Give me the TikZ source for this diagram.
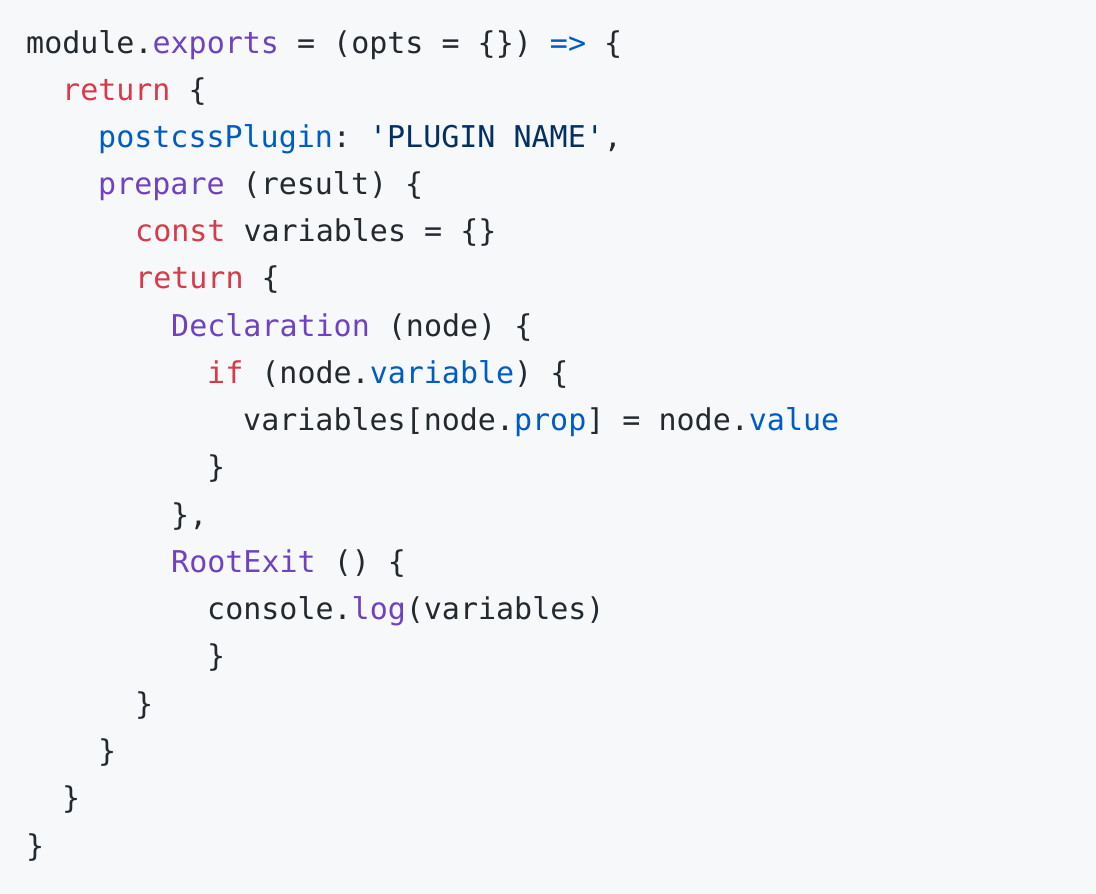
\documentclass[tikz,border=0pt]{standalone}
\usepackage{fontspec}
\setmonofont{DejaVu Sans Mono}
\usetikzlibrary{positioning}
\definecolor{codebg}{HTML}{F6F8FA}
\definecolor{codetxt}{HTML}{24292E}
\definecolor{codekw}{HTML}{D73A49}
\definecolor{codefn}{HTML}{6F42C1}
\definecolor{codepr}{HTML}{005CC5}
\definecolor{codestr}{HTML}{032F62}
\newcommand{\ckw}[1]{\textcolor{codekw}{#1}}
\newcommand{\cfn}[1]{\textcolor{codefn}{#1}}
\newcommand{\cpr}[1]{\textcolor{codepr}{#1}}
\newcommand{\cstr}[1]{\textcolor{codestr}{#1}}
\begin{document}
\begin{tikzpicture}[x=1pt,y=-1pt,
  codeline/.style={anchor=base west,inner sep=0pt,text=codetxt,
    font=\ttfamily\fontsize{30}{36}\selectfont}]
% background
\fill[codebg] (0,0) rectangle (1096,894);
\useasboundingbox (0,0) rectangle (1096,894);
% code lines
\node[codeline] (l1) at (26,53) {module.\cfn{exports} = (opts = \{\}) \cpr{=>} \{};
\node[codeline] (l2) at (62,100) {\ckw{return} \{};
\node[codeline] (l3) at (98,147) {\cpr{postcssPlugin}: \cstr{'PLUGIN NAME'},};
\node[codeline] (l4) at (98,194) {\cfn{prepare} (result) \{};
\node[codeline] (l5) at (135,241) {\ckw{const} variables = \{\}};
\node[codeline] (l6) at (135,288) {\ckw{return} \{};
\node[codeline] (l7) at (171,336) {\cfn{Declaration} (node) \{};
\node[codeline] (l8) at (207,383) {\ckw{if} (node.\cpr{variable}) \{};
\node[codeline] (l9) at (243,430) {variables[node.\cpr{prop}] = node.\cpr{value}};
\node[codeline] (l10) at (207,477) {\}};
\node[codeline] (l11) at (171,525) {\},};
\node[codeline] (l12) at (171,572) {\cfn{RootExit} () \{};
\node[codeline] (l13) at (207,619) {console.\cfn{log}(variables)};
\node[codeline] (l14) at (207,666) {\}};
\node[codeline] (l15) at (135,714) {\}};
\node[codeline] (l16) at (98,761) {\}};
\node[codeline] (l17) at (62,808) {\}};
\node[codeline] (l18) at (26,856) {\}};
\end{tikzpicture}
\end{document}
